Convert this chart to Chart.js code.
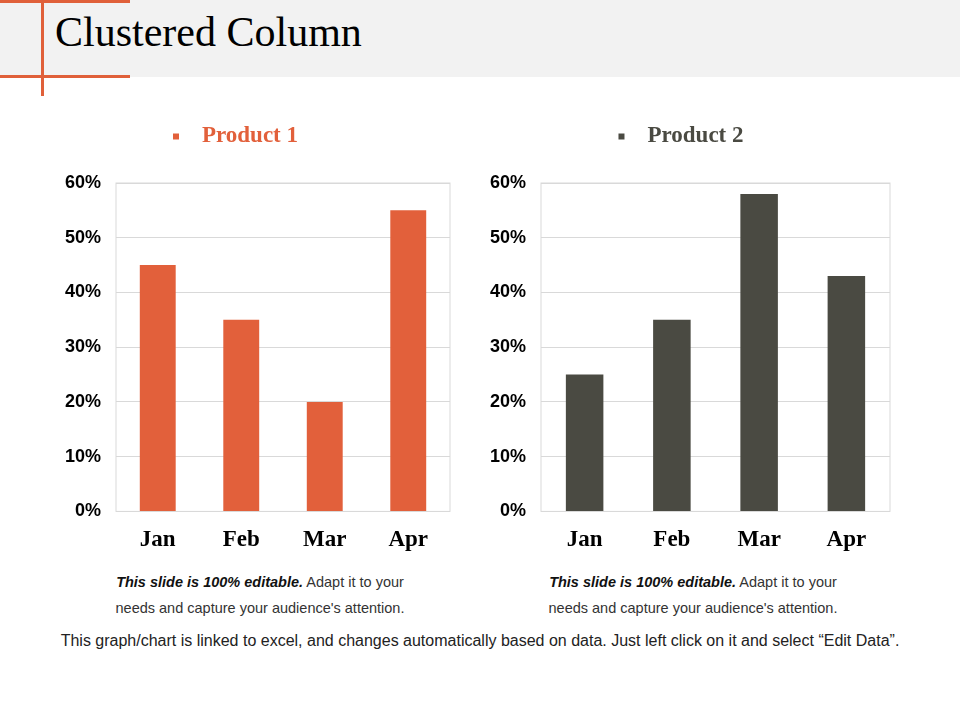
<!DOCTYPE html>
<html lang="en">
<head>
  <meta charset="UTF-8">
  <title>Clustered Column</title>
  <script src="https://cdn.jsdelivr.net/npm/chart.js"></script>
  <style>
    body { margin: 0; width: 960px; height: 720px; position: relative; background: #fff; overflow: hidden; }
    .band { position: absolute; left: 0; top: 0; width: 960px; height: 77px; background: #f2f2f2; }
    .bar-h { position: absolute; left: 0; width: 130px; height: 3px; background: #e0603a; }
    .bar-v { position: absolute; left: 41px; top: 0; width: 3px; height: 96px; background: #e0603a; }
    h1 {
      position: absolute; left: 55px; top: 8px; margin: 0;
      font-family: "Liberation Serif", "Times New Roman", serif;
      font-weight: normal; font-size: 42px; color: #000;
    }
    .box { position: absolute; }
    .caption {
      position: absolute; width: 340px; text-align: center;
      font-family: "Liberation Sans", Arial, sans-serif; font-size: 14.5px;
      line-height: 26px; color: #333;
    }
    .caption b { color: #111; font-style: italic; }
    .note {
      position: absolute; left: 0; top: 632px; width: 960px; text-align: center;
      font-family: "Liberation Sans Narrow", "Arial Narrow", sans-serif;
      font-size: 16px; color: #222;
    }
  </style>
</head>
<body>
  <div class="band"></div>
  <div class="bar-h" style="top:0"></div>
  <div class="bar-h" style="top:75px"></div>
  <div class="bar-v"></div>
  <h1>Clustered Column</h1>

  <div class="box" style="left:21px; top:110px; width:430px; height:451px;"><canvas id="chart1"></canvas></div>
  <div class="box" style="left:472px; top:110px; width:419px; height:451px;"><canvas id="chart2"></canvas></div>

  <div class="caption" style="left:90px; top:569px;"><b>This slide is 100% editable.</b> Adapt it to your<br>needs and capture your audience's attention.</div>
  <div class="caption" style="left:523px; top:569px;"><b>This slide is 100% editable.</b> Adapt it to your<br>needs and capture your audience's attention.</div>

  <div class="note">This graph/chart is linked to excel, and changes automatically based on data. Just left click on it and select &ldquo;Edit Data&rdquo;.</div>

  <script>
    // data
    var months = ['Jan', 'Feb', 'Mar', 'Apr'];
    var product1 = [45, 35, 20, 55];
    var product2 = [25, 35, 58, 43];

    // draws the light grey frame around the plot area
    var framePlugin = {
      id: 'frame',
      beforeDatasetsDraw: function(chart) {
        var a = chart.chartArea, ctx = chart.ctx;
        ctx.save();
        ctx.strokeStyle = '#d9d9d9';
        ctx.lineWidth = 1;
        ctx.strokeRect(a.left, a.top, a.right - a.left, a.bottom - a.top);
        ctx.restore();
      }
    };

    // adds some room under the legend
    var legendGap = {
      id: 'legendGap',
      beforeInit: function(chart) {
        var fit = chart.legend.fit;
        chart.legend.fit = function() {
          fit.bind(chart.legend)();
          this.height += 25;
        };
      }
    };

    function makeChart(id, label, values, color, axisWidth) {
      return new Chart(document.getElementById(id), {
        type: 'bar',
        data: {
          labels: months,
          datasets: [{
            label: label,
            data: values,
            backgroundColor: color,
            barPercentage: 0.43,
            categoryPercentage: 1
          }]
        },
        options: {
          responsive: true,
          maintainAspectRatio: false,
          animation: false,
          layout: { padding: { top: 5, right: 1, bottom: 0, left: 0 } },
          plugins: {
            legend: {
              labels: {
                boxWidth: 6, boxHeight: 6, padding: 10,
                color: color,
                font: { family: '"Liberation Serif", "Times New Roman", serif', size: 23, weight: 'bold' },
                generateLabels: function(chart) {
                  var items = Chart.defaults.plugins.legend.labels.generateLabels(chart);
                  items.forEach(function(it) { it.text = '  ' + it.text; });
                  return items;
                }
              }
            },
            tooltip: { enabled: false }
          },
          scales: {
            x: {
              grid: { display: false },
              border: { display: false },
              ticks: {
                padding: 7,
                color: '#000',
                font: { family: '"Liberation Serif", "Times New Roman", serif', size: 23, weight: 'bold' }
              }
            },
            y: {
              min: 0, max: 60,
              afterFit: function(scale) { scale.width = axisWidth; },
              grid: { color: '#d9d9d9', drawTicks: false },
              border: { display: false },
              ticks: {
                stepSize: 10,
                padding: 15,
                color: '#000',
                font: { family: '"Liberation Sans", Arial, sans-serif', size: 18, weight: 'bold' },
                callback: function(v) { return v + '%'; }
              }
            }
          }
        },
        plugins: [framePlugin, legendGap]
      });
    }

    makeChart('chart1', 'Product 1', product1, '#e2603b', 95);
    makeChart('chart2', 'Product 2', product2, '#4a4a42', 69);
  </script>
</body>
</html>
